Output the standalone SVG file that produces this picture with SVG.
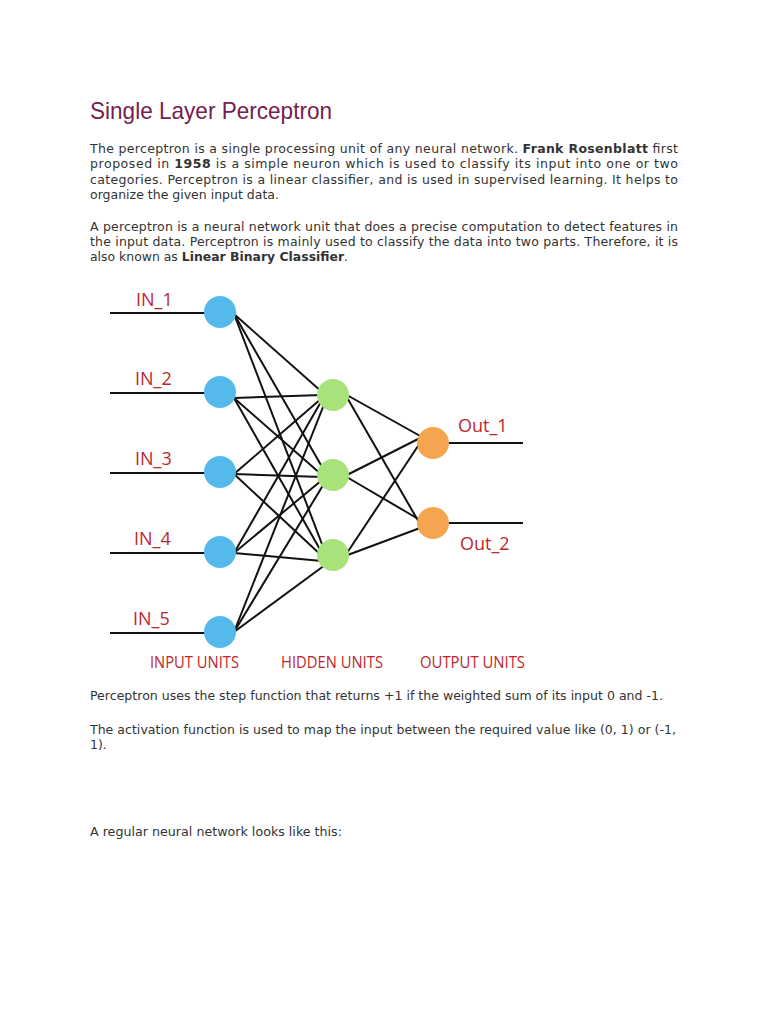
<svg xmlns="http://www.w3.org/2000/svg" width="768" height="1024" viewBox="0 0 768 1024">
<style>
.body{font-family:"DejaVu Sans","Open Sans",sans-serif;font-size:12.5px;fill:#333}
.b{font-weight:bold}
.title{font-family:"Liberation Sans",Arial,sans-serif;font-size:24px;fill:#74214f}
.lbl{font-family:"Open Sans","DejaVu Sans",sans-serif;font-size:18px;fill:#c0262d}
.unit{font-family:"Open Sans","DejaVu Sans",sans-serif;font-size:15.5px;fill:#c0262d}
.wire{stroke:#111;stroke-width:2;fill:none}
.in{fill:#56b9ec}.hid{fill:#a8e27a}.out{fill:#f5a54f}
</style>
<rect width="768" height="1024" fill="#fff"/>
<text class="title" x="90" y="119" textLength="242" lengthAdjust="spacingAndGlyphs">Single Layer Perceptron</text>
<g id="para1" class="body">
<text x="90" y="153" textLength="588" lengthAdjust="spacing">The perceptron is a single processing unit of any neural network. <tspan class="b">Frank Rosenblatt</tspan> first</text>
<text x="90" y="168" textLength="588" lengthAdjust="spacing">proposed in <tspan class="b">1958</tspan> is a simple neuron which is used to classify its input into one or two</text>
<text x="90" y="184" textLength="588" lengthAdjust="spacing">categories. Perceptron is a linear classifier, and is used in supervised learning. It helps to</text>
<text x="90" y="199" textLength="189" lengthAdjust="spacingAndGlyphs">organize the given input data.</text>
</g>
<g id="para2" class="body">
<text x="90" y="231" textLength="588" lengthAdjust="spacing">A perceptron is a neural network unit that does a precise computation to detect features in</text>
<text x="90" y="246" textLength="588" lengthAdjust="spacing">the input data. Perceptron is mainly used to classify the data into two parts. Therefore, it is</text>
<text x="90" y="261" textLength="258" lengthAdjust="spacingAndGlyphs">also known as <tspan class="b">Linear Binary Classifier</tspan>.</text>
</g>
<g id="connectors">
<line class="wire" x1="110" y1="313" x2="210" y2="313"/>
<line class="wire" x1="110" y1="393" x2="210" y2="393"/>
<line class="wire" x1="110" y1="473" x2="210" y2="473"/>
<line class="wire" x1="110" y1="553" x2="210" y2="553"/>
<line class="wire" x1="110" y1="633" x2="210" y2="633"/>
<line class="wire" x1="440" y1="443" x2="523" y2="443"/>
<line class="wire" x1="440" y1="523" x2="523" y2="523"/>
<g id="in-hid">
<line class="wire" x1="234" y1="314" x2="322" y2="392"/>
<line class="wire" x1="234" y1="314" x2="325" y2="472"/>
<line class="wire" x1="234" y1="314" x2="325" y2="552"/>
<line class="wire" x1="234" y1="398" x2="322" y2="395"/>
<line class="wire" x1="234" y1="398" x2="322" y2="475"/>
<line class="wire" x1="234" y1="398" x2="322" y2="553"/>
<line class="wire" x1="234" y1="474" x2="322" y2="398"/>
<line class="wire" x1="234" y1="474" x2="322" y2="477"/>
<line class="wire" x1="234" y1="474" x2="322" y2="556"/>
<line class="wire" x1="234" y1="553" x2="322" y2="400"/>
<line class="wire" x1="234" y1="553" x2="322" y2="480"/>
<line class="wire" x1="234" y1="553" x2="322" y2="561"/>
<line class="wire" x1="234" y1="632" x2="325" y2="402"/>
<line class="wire" x1="234" y1="632" x2="325" y2="482"/>
<line class="wire" x1="234" y1="632" x2="325" y2="565"/>
</g>
<g id="hid-out">
<line class="wire" x1="345" y1="394" x2="422" y2="437"/>
<line class="wire" x1="345" y1="394" x2="420" y2="524"/>
<line class="wire" x1="345" y1="476" x2="422" y2="437"/>
<line class="wire" x1="345" y1="476" x2="420" y2="520"/>
<line class="wire" x1="345" y1="556" x2="422" y2="440"/>
<line class="wire" x1="345" y1="556" x2="420" y2="528"/>
</g>
</g>
<g id="in1"><circle class="in" cx="220" cy="312" r="16"/><text class="lbl" x="136" y="306">IN_1</text></g>
<g id="in2"><circle class="in" cx="220" cy="392" r="16"/><text class="lbl" x="135" y="385">IN_2</text></g>
<g id="in3"><circle class="in" cx="220" cy="472" r="16"/><text class="lbl" x="135" y="465">IN_3</text></g>
<g id="in4"><circle class="in" cx="220" cy="552" r="16"/><text class="lbl" x="134" y="545">IN_4</text></g>
<g id="in5"><circle class="in" cx="220" cy="632" r="16"/><text class="lbl" x="133" y="625">IN_5</text></g>
<g id="h1"><circle class="hid" cx="333" cy="395" r="16"/></g>
<g id="h2"><circle class="hid" cx="333" cy="475" r="16"/></g>
<g id="h3"><circle class="hid" cx="333" cy="555" r="16"/></g>
<g id="o1"><circle class="out" cx="433" cy="443" r="16"/><text class="lbl" x="458" y="432">Out_1</text></g>
<g id="o2"><circle class="out" cx="433" cy="523" r="16"/><text class="lbl" x="460" y="550">Out_2</text></g>
<g id="units">
<text class="unit" x="150" y="668" textLength="89" lengthAdjust="spacingAndGlyphs">INPUT UNITS</text>
<text class="unit" x="281" y="668" textLength="102" lengthAdjust="spacingAndGlyphs">HIDDEN UNITS</text>
<text class="unit" x="420" y="668" textLength="105" lengthAdjust="spacingAndGlyphs">OUTPUT UNITS</text>
</g>
<g id="para3" class="body">
<text x="90" y="700" textLength="573" lengthAdjust="spacingAndGlyphs">Perceptron uses the step function that returns +1 if the weighted sum of its input 0 and -1.</text>
<text x="90" y="734" textLength="586" lengthAdjust="spacing">The activation function is used to map the input between the required value like (0, 1) or (-1,</text>
<text x="90" y="749">1).</text>
<text x="90" y="836" textLength="252" lengthAdjust="spacingAndGlyphs">A regular neural network looks like this:</text>
</g>
</svg>
